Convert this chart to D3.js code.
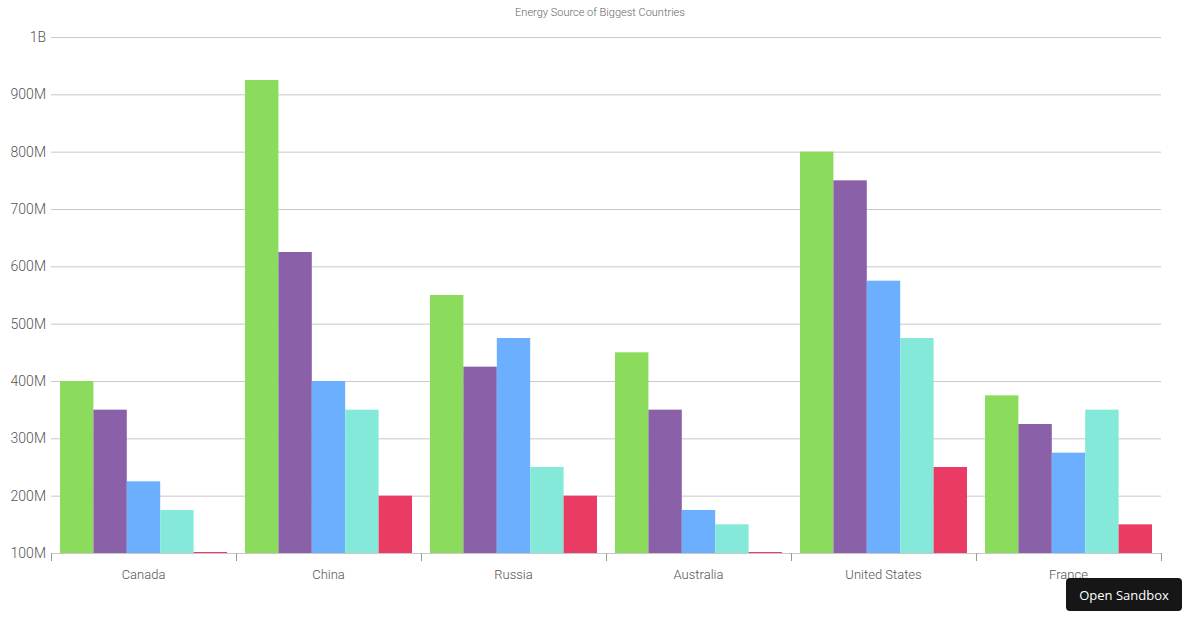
<!DOCTYPE html>
<html>
<head>
<meta charset="utf-8">
<script src="https://cdn.jsdelivr.net/npm/d3@7"></script>
<style>
  html, body { margin: 0; padding: 0; background: #fff; }
  svg { display: block; font-family: Roboto, sans-serif; }
  .btn { position: absolute; left: 1066px; top: 578px; width: 116px; height: 33px;
         background: #161616; color: #fff; border-radius: 4px; font: 13px "Open Sans", sans-serif;
         display: flex; align-items: center; justify-content: center; }
</style>
</head>
<body>
<svg id="chart"></svg>
<div class="btn">Open Sandbox</div>
<script>
const countries = ["Canada", "China", "Russia", "Australia", "United States", "France"];
const sources = ["s1", "s2", "s3", "s4", "s5"];
const colors = ["#8BDC5C", "#8A60A8", "#6DAFFF", "#84E9D9", "#E93B63"];

// values in millions, one array per source (ordered like countries)
const s1 = [400, 925, 550, 450, 800, 375];
const s2 = [350, 625, 425, 350, 750, 325];
const s3 = [225, 400, 475, 175, 575, 275];
const s4 = [175, 350, 250, 150, 475, 350];
const s5 = [100, 200, 200, 100, 250, 150];
const seriesValues = [s1, s2, s3, s4, s5];

const yTicks = [100, 200, 300, 400, 500, 600, 700, 800, 900, 1000];

const width = 1200, height = 630;
const margin = {top: 37, right: 39, bottom: 77, left: 51};

const svg = d3.select("#chart").attr("width", width).attr("height", height);

svg.append("text")
    .attr("x", 600).attr("y", 16)
    .attr("text-anchor", "middle")
    .attr("font-size", 11)
    .attr("font-weight", 300)
    .attr("fill", "#666")
    .text("Energy Source of Biggest Countries");

const x0 = d3.scaleBand()
    .domain(countries)
    .range([margin.left, width - margin.right]);

const x1 = d3.scaleBand()
    .domain(sources)
    .range([9, x0.bandwidth() - 9]);

const y = d3.scaleLinear()
    .domain([100, 1000])
    .range([height - margin.bottom, margin.top]);

const fmt = v => v >= 1000 ? (v / 1000) + "B" : v + "M";

// grid
svg.append("g")
    .selectAll("line")
    .data(yTicks)
    .join("line")
    .attr("x1", margin.left).attr("x2", width - margin.right)
    .attr("y1", d => y(d) + 0.5).attr("y2", d => y(d) + 0.5)
    .attr("stroke", "#c8c8c8");

// y labels
svg.append("g")
    .selectAll("text")
    .data(yTicks)
    .join("text")
    .attr("x", margin.left - 5)
    .attr("y", d => y(d))
    .attr("dy", "0.35em")
    .attr("text-anchor", "end")
    .attr("font-size", 14)
    .attr("font-weight", 300)
    .attr("fill", "#555")
    .text(fmt);

// bars
const groups = svg.append("g")
    .selectAll("g")
    .data(countries)
    .join("g")
    .attr("transform", d => `translate(${x0(d)},0)`);

groups.selectAll("rect")
    .data((c, i) => sources.map((s, j) => ({s, j, v: seriesValues[j][i]})))
    .join("rect")
    .attr("x", d => x1(d.s))
    .attr("width", x1.bandwidth())
    .attr("y", d => Math.min(y(d.v), y(100) - 1))
    .attr("height", d => Math.max(1, y(100) - y(d.v)))
    .attr("fill", d => colors[d.j]);

// x axis
const axis = svg.append("g")
    .attr("transform", `translate(0,${y(100)})`)
    .call(d3.axisBottom(x0).tickSize(0).tickPadding(17));
axis.select(".domain").attr("stroke", "#c8c8c8").attr("d", `M${margin.left},0.5H${width - margin.right}`);
axis.selectAll("text").attr("font-size", 13).attr("fill", "#555")
    .attr("font-weight", 300)
    .attr("font-family", "Roboto, sans-serif");

const bounds = countries.map(c => x0(c)).concat([width - margin.right]);
svg.append("g")
    .selectAll("line")
    .data(bounds)
    .join("line")
    .attr("x1", d => Math.round(d) + 0.5).attr("x2", d => Math.round(d) + 0.5)
    .attr("y1", y(100)).attr("y2", y(100) + 8)
    .attr("stroke", "#999");
</script>
</body>
</html>
